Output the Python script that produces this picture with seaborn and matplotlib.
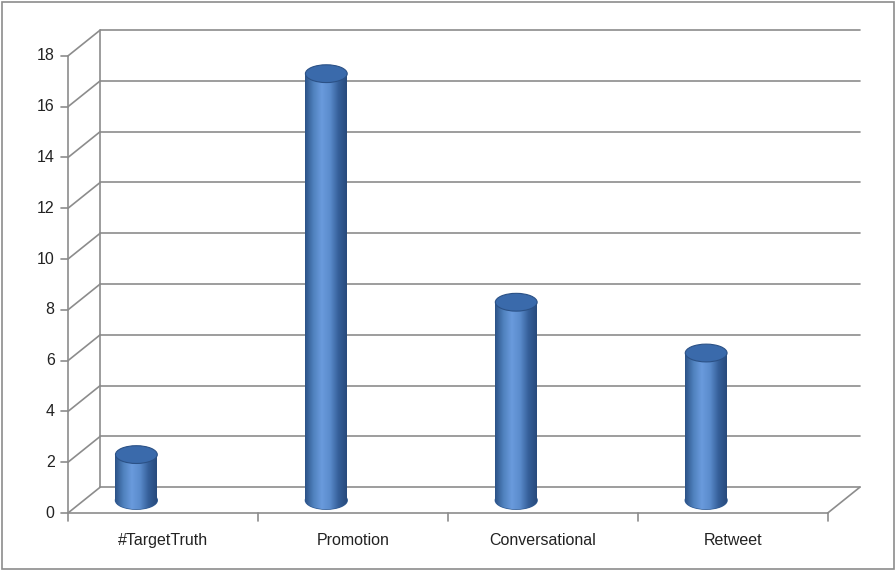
import matplotlib
matplotlib.use("Agg")
import matplotlib.pyplot as plt
import seaborn as sns
import numpy as np
import pandas as pd
from matplotlib.patches import Ellipse, Rectangle
from matplotlib.colors import LinearSegmentedColormap

categories = ["#TargetTruth", "Promotion", "Conversational", "Retweet"]
values = [2, 17, 8, 6]
yticks = [0, 2, 4, 6, 8, 10, 12, 14, 16, 18]

sns.set_style("white")
plt.rcParams['font.family'] = ['Liberation Sans', 'DejaVu Sans']

W, H = 896, 571
fig = plt.figure(figsize=(W/100, H/100), dpi=100)
fig.patches.append(Rectangle((0.002, 0.003), 0.996, 0.994, transform=fig.transFigure,
                             fill=False, ec="#8c8c8c", lw=1.2))
dx, dy = 0.17, 1.02
ax = fig.add_axes([68/W, 1-513/H, (860-68)/W, (513-30)/H])
df = pd.DataFrame({"cat": categories, "val": values})
sns.barplot(data=df, x="cat", y="val", ax=ax, width=0.22, color="#4F81BD", zorder=3)
ax.set_xlim(-0.5, 3.5+dx)
ax.set_ylim(0, 18+dy)
for s in ax.spines.values():
    s.set_visible(False)
ax.set_xticks([]); ax.set_yticks([])
ax.set_xlabel(""); ax.set_ylabel("")

gc = "#8c8c8c"
for t in yticks:
    ax.plot([-0.5+dx, 3.5+dx], [t+dy, t+dy], color=gc, lw=1.2, zorder=1, clip_on=False)
    ax.plot([-0.5, -0.5+dx], [t, t+dy], color=gc, lw=1.2, zorder=1, clip_on=False)
    ax.plot([-0.5-0.035, -0.5], [t, t], color=gc, lw=1.2, clip_on=False)
    ax.text(-0.5-0.07, t, str(t), ha="right", va="center", fontsize=11.5, color="#222")
ax.plot([-0.5, -0.5], [0, 18], color=gc, lw=1.2, clip_on=False)
ax.plot([-0.5+dx, -0.5+dx], [dy, 18+dy], color=gc, lw=1.2, zorder=1)
ax.plot([-0.5, 3.5], [0, 0], color=gc, lw=1.2, clip_on=False)
ax.plot([3.5, 3.5+dx], [0, dy], color=gc, lw=1.2, clip_on=False)
for b in [-0.5, 0.5, 1.5, 2.5, 3.5]:
    ax.plot([b, b], [0, -0.3], color=gc, lw=1.2, clip_on=False)
for i, c in enumerate(categories):
    ax.text(i, -1.1, c, ha="center", va="center", fontsize=11.5, color="#222")

cmap = LinearSegmentedColormap.from_list("cyl", ["#2B5186", "#4F81BD", "#6A9BDD", "#5A8BCC", "#355F99", "#284A7C"])
grad = np.linspace(0, 1, 256).reshape(1, -1)
ew = 0.22
for p, v in zip(ax.patches, values):
    x0 = p.get_x() - 0.14
    p.set_x(x0)
    p.set_y(0.5)
    p.set_height(v - 0.2)
    p.set_alpha(0)
    xc = x0 + ew/2
    bot = Ellipse((xc, 0.5), ew, 0.7, color="#2F5A93", zorder=3)
    ax.add_patch(bot)
    rect = Rectangle((x0, 0.5), ew, v - 0.2, transform=ax.transData, fc="none", ec="none")
    ax.add_patch(rect)
    im = ax.imshow(grad, extent=[x0, x0+ew, 0.5, v+0.3], aspect="auto", cmap=cmap, zorder=4)
    im.set_clip_path(rect)
    bot2 = Ellipse((xc, 0.5), ew, 0.7, zorder=4, fc="none", ec="none")
    ax.add_patch(bot2)
    im2 = ax.imshow(grad, extent=[x0, x0+ew, 0.1, 0.9], aspect="auto", cmap=cmap, zorder=4)
    im2.set_clip_path(bot2)
    top = Ellipse((xc, v+0.3), ew, 0.7, fc="#3A6AAB", ec="#2B5186", lw=0.8, zorder=5)
    ax.add_patch(top)
ax.set_xlim(-0.5, 3.5+dx)
ax.set_ylim(0, 18+dy)
fig.savefig("out.png", dpi=100)
